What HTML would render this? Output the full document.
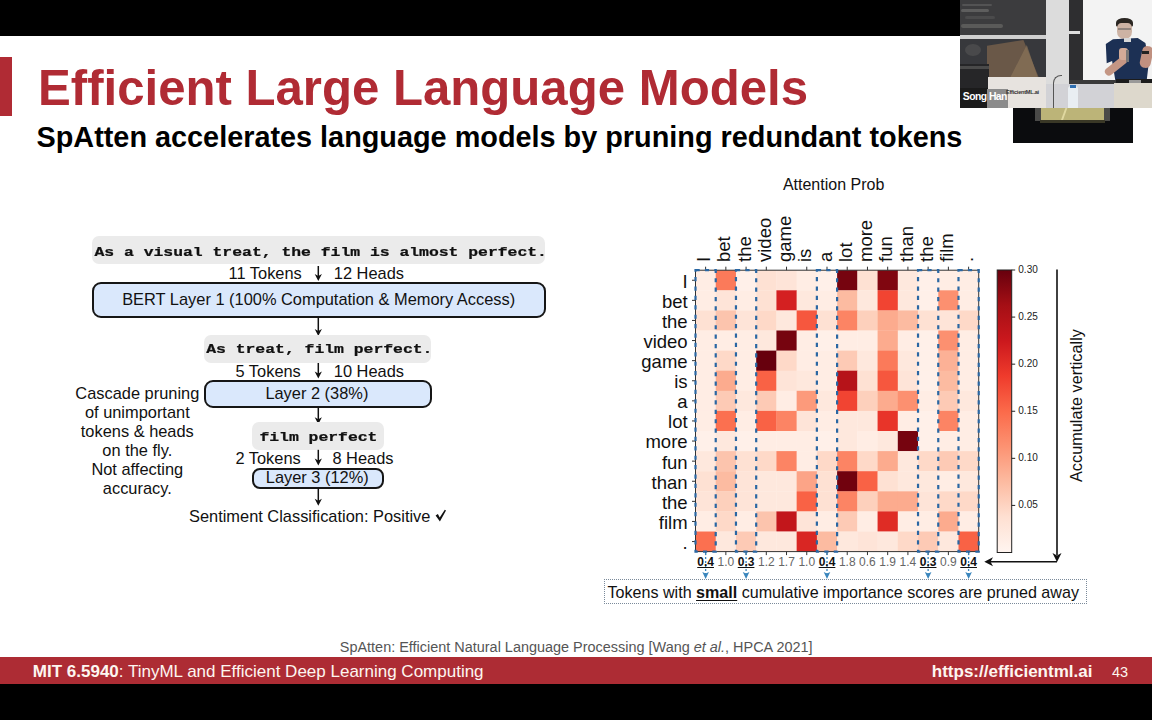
<!DOCTYPE html><html><head><meta charset="utf-8"><style>html,body{margin:0;padding:0;background:#fff;width:1152px;height:720px;overflow:hidden;position:relative}</style></head><body>
<div style="position:absolute;left:0px;top:0px;width:1152px;height:36px;background:#000;"></div>
<div style="position:absolute;left:0px;top:57px;width:12px;height:59px;background:#b02b34;"></div>
<div style="position:absolute;left:0px;top:657px;width:1152px;height:27px;background:#ad2c34;"></div>
<div style="position:absolute;left:0px;top:684px;width:1152px;height:36px;background:#000;"></div>
<div style="position:absolute;left:38.00px;top:63.72px;font-family:'Liberation Sans', sans-serif;font-size:49.15px;line-height:1;font-weight:bold;color:#b02b34;white-space:pre;">Efficient Large Language Models</div>
<div style="position:absolute;left:36.50px;top:123.49px;font-family:'Liberation Sans', sans-serif;font-size:28.83px;line-height:1;font-weight:bold;color:#000;white-space:pre;">SpAtten accelerates language models by pruning redundant tokens</div>
<div style="position:absolute;left:92.3px;top:236.3px;width:453.2px;height:28.099999999999966px;background:#ebebeb;border-radius:7px"></div>
<div style="position:absolute;left:94.50px;top:243.54px;font-family:'Liberation Mono', monospace;font-size:16.4px;line-height:1;font-weight:bold;color:#111;white-space:pre;transform:scale(1.0,0.82);transform-origin:0 12.46px;-webkit-text-stroke:0.3px #111;">As a visual treat, the film is almost perfect.</div>
<div style="position:absolute;left:228.60px;top:264.56px;font-family:'Liberation Sans', sans-serif;font-size:16.4px;line-height:1;font-weight:normal;color:#111;white-space:pre;">11 Tokens</div>
<div style="position:absolute;left:333.80px;top:264.56px;font-family:'Liberation Sans', sans-serif;font-size:16.4px;line-height:1;font-weight:normal;color:#111;white-space:pre;">12 Heads</div>
<svg style="position:absolute;left:0;top:0" width="1152" height="720"><line x1="318.3" y1="266" x2="318.3" y2="278" stroke="#111" stroke-width="1.5"/><path d="M314.7 274 L318.3 281 L321.90000000000003 274 L318.3 276 Z" fill="#111"/></svg>
<div style="position:absolute;left:92.3px;top:282.2px;width:453.7px;height:35.400000000000034px;background:#dae8fc;border:2px solid #161616;border-radius:9px;box-sizing:border-box"></div>
<div style="position:absolute;left:122.20px;top:291.46px;font-family:'Liberation Sans', sans-serif;font-size:16.4px;line-height:1;font-weight:normal;color:#111;white-space:pre;">BERT Layer 1 (100% Computation &amp; Memory Access)</div>
<svg style="position:absolute;left:0;top:0" width="1152" height="720"><line x1="318.3" y1="317.6" x2="318.3" y2="333" stroke="#111" stroke-width="1.5"/><path d="M314.7 329 L318.3 336 L321.90000000000003 329 L318.3 331 Z" fill="#111"/></svg>
<div style="position:absolute;left:203.7px;top:335.2px;width:227.8px;height:28.19999999999999px;background:#ebebeb;border-radius:7px"></div>
<div style="position:absolute;left:206.20px;top:341.14px;font-family:'Liberation Mono', monospace;font-size:16.4px;line-height:1;font-weight:bold;color:#111;white-space:pre;transform:scale(1.0,0.82);transform-origin:0 12.46px;-webkit-text-stroke:0.3px #111;">As treat, film perfect.</div>
<div style="position:absolute;left:235.50px;top:362.96px;font-family:'Liberation Sans', sans-serif;font-size:16.4px;line-height:1;font-weight:normal;color:#111;white-space:pre;">5 Tokens</div>
<div style="position:absolute;left:333.80px;top:362.96px;font-family:'Liberation Sans', sans-serif;font-size:16.4px;line-height:1;font-weight:normal;color:#111;white-space:pre;">10 Heads</div>
<svg style="position:absolute;left:0;top:0" width="1152" height="720"><line x1="318.3" y1="363" x2="318.3" y2="375.6" stroke="#111" stroke-width="1.5"/><path d="M314.7 371.6 L318.3 378.6 L321.90000000000003 371.6 L318.3 373.6 Z" fill="#111"/></svg>
<div style="position:absolute;left:204.1px;top:379.7px;width:227.9px;height:28.19999999999999px;background:#dae8fc;border:2px solid #161616;border-radius:9px;box-sizing:border-box"></div>
<div style="position:absolute;left:265.40px;top:385.26px;font-family:'Liberation Sans', sans-serif;font-size:16.4px;line-height:1;font-weight:normal;color:#111;white-space:pre;">Layer 2 (38%)</div>
<svg style="position:absolute;left:0;top:0" width="1152" height="720"><line x1="318.3" y1="407.9" x2="318.3" y2="421.3" stroke="#111" stroke-width="1.5"/><path d="M314.7 417.3 L318.3 424.3 L321.90000000000003 417.3 L318.3 419.3 Z" fill="#111"/></svg>
<div style="position:absolute;left:251.7px;top:422.4px;width:132.0px;height:27.400000000000034px;background:#ebebeb;border-radius:7px"></div>
<div style="position:absolute;left:259.40px;top:428.84px;font-family:'Liberation Mono', monospace;font-size:16.4px;line-height:1;font-weight:bold;color:#111;white-space:pre;transform:scale(1.0,0.82);transform-origin:0 12.46px;-webkit-text-stroke:0.3px #111;">film perfect</div>
<div style="position:absolute;left:235.40px;top:449.76px;font-family:'Liberation Sans', sans-serif;font-size:16.4px;line-height:1;font-weight:normal;color:#111;white-space:pre;">2 Tokens</div>
<div style="position:absolute;left:332.40px;top:449.76px;font-family:'Liberation Sans', sans-serif;font-size:16.4px;line-height:1;font-weight:normal;color:#111;white-space:pre;">8 Heads</div>
<svg style="position:absolute;left:0;top:0" width="1152" height="720"><line x1="318.3" y1="449.8" x2="318.3" y2="462.6" stroke="#111" stroke-width="1.5"/><path d="M314.7 458.6 L318.3 465.6 L321.90000000000003 458.6 L318.3 460.6 Z" fill="#111"/></svg>
<div style="position:absolute;left:251.7px;top:467.6px;width:132.0px;height:21.099999999999966px;background:#dae8fc;border:2px solid #161616;border-radius:8px;box-sizing:border-box"></div>
<div style="position:absolute;left:265.80px;top:468.66px;font-family:'Liberation Sans', sans-serif;font-size:16.4px;line-height:1;font-weight:normal;color:#111;white-space:pre;">Layer 3 (12%)</div>
<svg style="position:absolute;left:0;top:0" width="1152" height="720"><line x1="318.3" y1="488.7" x2="318.3" y2="502.7" stroke="#111" stroke-width="1.5"/><path d="M314.7 498.7 L318.3 505.7 L321.90000000000003 498.7 L318.3 500.7 Z" fill="#111"/></svg>
<div style="position:absolute;left:189.00px;top:507.56px;font-family:'Liberation Sans', sans-serif;font-size:16.4px;line-height:1;font-weight:normal;color:#111;white-space:pre;">Sentiment Classification: Positive</div>
<svg style="position:absolute;left:0;top:0" width="1152" height="720"><path d="M435.6 515.6 L437.9 514.0 L439.7 517.6 L444.8 509.8 L446.0 510.6 L439.9 521.4 Z" fill="#111"/></svg>
<div style="position:absolute;left:37.3px;width:200px;text-align:center;top:385.26px;font-family:'Liberation Sans', sans-serif;font-size:16.4px;line-height:1;color:#111;white-space:pre">Cascade pruning</div>
<div style="position:absolute;left:37.3px;width:200px;text-align:center;top:404.26px;font-family:'Liberation Sans', sans-serif;font-size:16.4px;line-height:1;color:#111;white-space:pre">of unimportant</div>
<div style="position:absolute;left:37.3px;width:200px;text-align:center;top:423.26px;font-family:'Liberation Sans', sans-serif;font-size:16.4px;line-height:1;color:#111;white-space:pre">tokens &amp; heads</div>
<div style="position:absolute;left:37.3px;width:200px;text-align:center;top:442.26px;font-family:'Liberation Sans', sans-serif;font-size:16.4px;line-height:1;color:#111;white-space:pre">on the fly.</div>
<div style="position:absolute;left:37.3px;width:200px;text-align:center;top:461.26px;font-family:'Liberation Sans', sans-serif;font-size:16.4px;line-height:1;color:#111;white-space:pre">Not affecting</div>
<div style="position:absolute;left:37.3px;width:200px;text-align:center;top:480.26px;font-family:'Liberation Sans', sans-serif;font-size:16.4px;line-height:1;color:#111;white-space:pre">accuracy.</div>
<div style="position:absolute;left:782.90px;top:176.70px;font-family:'Liberation Sans', sans-serif;font-size:16.0px;line-height:1;font-weight:normal;color:#111;white-space:pre;">Attention Prob</div>
<svg style="position:absolute;left:0;top:0" width="1152" height="720"><rect x="695.50" y="270.20" width="20.53" height="20.40" fill="#ffede4"/><rect x="715.73" y="270.20" width="20.53" height="20.40" fill="#fb7a5a"/><rect x="735.96" y="270.20" width="20.53" height="20.40" fill="#fff0e9"/><rect x="756.19" y="270.20" width="20.53" height="20.40" fill="#fee1d3"/><rect x="776.42" y="270.20" width="20.53" height="20.40" fill="#fee4d8"/><rect x="796.65" y="270.20" width="20.53" height="20.40" fill="#ffede4"/><rect x="816.88" y="270.20" width="20.53" height="20.40" fill="#fff0e9"/><rect x="837.11" y="270.20" width="20.53" height="20.40" fill="#76040f"/><rect x="857.34" y="270.20" width="20.53" height="20.40" fill="#fee1d3"/><rect x="877.57" y="270.20" width="20.53" height="20.40" fill="#800610"/><rect x="897.80" y="270.20" width="20.53" height="20.40" fill="#fee8dd"/><rect x="918.03" y="270.20" width="20.53" height="20.40" fill="#fff0e9"/><rect x="938.26" y="270.20" width="20.53" height="20.40" fill="#ffede4"/><rect x="958.49" y="270.20" width="20.53" height="20.40" fill="#ffede4"/><rect x="695.50" y="290.30" width="20.53" height="20.40" fill="#ffede4"/><rect x="715.73" y="290.30" width="20.53" height="20.40" fill="#fee4d8"/><rect x="735.96" y="290.30" width="20.53" height="20.40" fill="#ffede4"/><rect x="756.19" y="290.30" width="20.53" height="20.40" fill="#fee1d3"/><rect x="776.42" y="290.30" width="20.53" height="20.40" fill="#d42021"/><rect x="796.65" y="290.30" width="20.53" height="20.40" fill="#fee8dd"/><rect x="816.88" y="290.30" width="20.53" height="20.40" fill="#ffede4"/><rect x="837.11" y="290.30" width="20.53" height="20.40" fill="#fcbba1"/><rect x="857.34" y="290.30" width="20.53" height="20.40" fill="#fee8dd"/><rect x="877.57" y="290.30" width="20.53" height="20.40" fill="#f14432"/><rect x="897.80" y="290.30" width="20.53" height="20.40" fill="#fee8dd"/><rect x="918.03" y="290.30" width="20.53" height="20.40" fill="#fff0e9"/><rect x="938.26" y="290.30" width="20.53" height="20.40" fill="#fc9070"/><rect x="958.49" y="290.30" width="20.53" height="20.40" fill="#ffede4"/><rect x="695.50" y="310.40" width="20.53" height="20.40" fill="#fee1d3"/><rect x="715.73" y="310.40" width="20.53" height="20.40" fill="#fcc4ad"/><rect x="735.96" y="310.40" width="20.53" height="20.40" fill="#fee4d8"/><rect x="756.19" y="310.40" width="20.53" height="20.40" fill="#fed9c8"/><rect x="776.42" y="310.40" width="20.53" height="20.40" fill="#fee8dd"/><rect x="796.65" y="310.40" width="20.53" height="20.40" fill="#f6573e"/><rect x="816.88" y="310.40" width="20.53" height="20.40" fill="#fee1d3"/><rect x="837.11" y="310.40" width="20.53" height="20.40" fill="#fc8464"/><rect x="857.34" y="310.40" width="20.53" height="20.40" fill="#fdd0bc"/><rect x="877.57" y="310.40" width="20.53" height="20.40" fill="#fcab8e"/><rect x="897.80" y="310.40" width="20.53" height="20.40" fill="#fcbba1"/><rect x="918.03" y="310.40" width="20.53" height="20.40" fill="#fee1d3"/><rect x="938.26" y="310.40" width="20.53" height="20.40" fill="#fee4d8"/><rect x="958.49" y="310.40" width="20.53" height="20.40" fill="#fed9c8"/><rect x="695.50" y="330.50" width="20.53" height="20.40" fill="#ffede4"/><rect x="715.73" y="330.50" width="20.53" height="20.40" fill="#ffede4"/><rect x="735.96" y="330.50" width="20.53" height="20.40" fill="#ffede4"/><rect x="756.19" y="330.50" width="20.53" height="20.40" fill="#fee8dd"/><rect x="776.42" y="330.50" width="20.53" height="20.40" fill="#76040f"/><rect x="796.65" y="330.50" width="20.53" height="20.40" fill="#ffede4"/><rect x="816.88" y="330.50" width="20.53" height="20.40" fill="#fff0e9"/><rect x="837.11" y="330.50" width="20.53" height="20.40" fill="#ffede4"/><rect x="857.34" y="330.50" width="20.53" height="20.40" fill="#ffede4"/><rect x="877.57" y="330.50" width="20.53" height="20.40" fill="#fcab8e"/><rect x="897.80" y="330.50" width="20.53" height="20.40" fill="#ffede4"/><rect x="918.03" y="330.50" width="20.53" height="20.40" fill="#fff0e9"/><rect x="938.26" y="330.50" width="20.53" height="20.40" fill="#fc9070"/><rect x="958.49" y="330.50" width="20.53" height="20.40" fill="#ffede4"/><rect x="695.50" y="350.60" width="20.53" height="20.40" fill="#ffede4"/><rect x="715.73" y="350.60" width="20.53" height="20.40" fill="#fed9c8"/><rect x="735.96" y="350.60" width="20.53" height="20.40" fill="#ffede4"/><rect x="756.19" y="350.60" width="20.53" height="20.40" fill="#67000d"/><rect x="776.42" y="350.60" width="20.53" height="20.40" fill="#fed9c8"/><rect x="796.65" y="350.60" width="20.53" height="20.40" fill="#ffede4"/><rect x="816.88" y="350.60" width="20.53" height="20.40" fill="#ffede4"/><rect x="837.11" y="350.60" width="20.53" height="20.40" fill="#fdcab5"/><rect x="857.34" y="350.60" width="20.53" height="20.40" fill="#fee8dd"/><rect x="877.57" y="350.60" width="20.53" height="20.40" fill="#fb7a5a"/><rect x="897.80" y="350.60" width="20.53" height="20.40" fill="#fee8dd"/><rect x="918.03" y="350.60" width="20.53" height="20.40" fill="#fff0e9"/><rect x="938.26" y="350.60" width="20.53" height="20.40" fill="#fcb196"/><rect x="958.49" y="350.60" width="20.53" height="20.40" fill="#ffede4"/><rect x="695.50" y="370.70" width="20.53" height="20.40" fill="#ffede4"/><rect x="715.73" y="370.70" width="20.53" height="20.40" fill="#fcab8e"/><rect x="735.96" y="370.70" width="20.53" height="20.40" fill="#ffede4"/><rect x="756.19" y="370.70" width="20.53" height="20.40" fill="#f96245"/><rect x="776.42" y="370.70" width="20.53" height="20.40" fill="#fee4d8"/><rect x="796.65" y="370.70" width="20.53" height="20.40" fill="#fee8dd"/><rect x="816.88" y="370.70" width="20.53" height="20.40" fill="#ffede4"/><rect x="837.11" y="370.70" width="20.53" height="20.40" fill="#b61319"/><rect x="857.34" y="370.70" width="20.53" height="20.40" fill="#fee1d3"/><rect x="877.57" y="370.70" width="20.53" height="20.40" fill="#f6573e"/><rect x="897.80" y="370.70" width="20.53" height="20.40" fill="#fee4d8"/><rect x="918.03" y="370.70" width="20.53" height="20.40" fill="#fff0e9"/><rect x="938.26" y="370.70" width="20.53" height="20.40" fill="#fcbba1"/><rect x="958.49" y="370.70" width="20.53" height="20.40" fill="#ffede4"/><rect x="695.50" y="390.80" width="20.53" height="20.40" fill="#ffede4"/><rect x="715.73" y="390.80" width="20.53" height="20.40" fill="#fdcab5"/><rect x="735.96" y="390.80" width="20.53" height="20.40" fill="#fee8dd"/><rect x="756.19" y="390.80" width="20.53" height="20.40" fill="#fdcab5"/><rect x="776.42" y="390.80" width="20.53" height="20.40" fill="#ffede4"/><rect x="796.65" y="390.80" width="20.53" height="20.40" fill="#fc9a7b"/><rect x="816.88" y="390.80" width="20.53" height="20.40" fill="#fee8dd"/><rect x="837.11" y="390.80" width="20.53" height="20.40" fill="#f14432"/><rect x="857.34" y="390.80" width="20.53" height="20.40" fill="#fdd0bc"/><rect x="877.57" y="390.80" width="20.53" height="20.40" fill="#fcab8e"/><rect x="897.80" y="390.80" width="20.53" height="20.40" fill="#fc9070"/><rect x="918.03" y="390.80" width="20.53" height="20.40" fill="#ffede4"/><rect x="938.26" y="390.80" width="20.53" height="20.40" fill="#fdcab5"/><rect x="958.49" y="390.80" width="20.53" height="20.40" fill="#fee8dd"/><rect x="695.50" y="410.90" width="20.53" height="20.40" fill="#ffede4"/><rect x="715.73" y="410.90" width="20.53" height="20.40" fill="#fb7050"/><rect x="735.96" y="410.90" width="20.53" height="20.40" fill="#ffede4"/><rect x="756.19" y="410.90" width="20.53" height="20.40" fill="#f96245"/><rect x="776.42" y="410.90" width="20.53" height="20.40" fill="#fc8464"/><rect x="796.65" y="410.90" width="20.53" height="20.40" fill="#fee4d8"/><rect x="816.88" y="410.90" width="20.53" height="20.40" fill="#ffede4"/><rect x="837.11" y="410.90" width="20.53" height="20.40" fill="#fee8dd"/><rect x="857.34" y="410.90" width="20.53" height="20.40" fill="#fee8dd"/><rect x="877.57" y="410.90" width="20.53" height="20.40" fill="#e83429"/><rect x="897.80" y="410.90" width="20.53" height="20.40" fill="#ffede4"/><rect x="918.03" y="410.90" width="20.53" height="20.40" fill="#fff0e9"/><rect x="938.26" y="410.90" width="20.53" height="20.40" fill="#fc8464"/><rect x="958.49" y="410.90" width="20.53" height="20.40" fill="#ffede4"/><rect x="695.50" y="431.00" width="20.53" height="20.40" fill="#fff0e9"/><rect x="715.73" y="431.00" width="20.53" height="20.40" fill="#fee8dd"/><rect x="735.96" y="431.00" width="20.53" height="20.40" fill="#fff0e9"/><rect x="756.19" y="431.00" width="20.53" height="20.40" fill="#ffede4"/><rect x="776.42" y="431.00" width="20.53" height="20.40" fill="#ffede4"/><rect x="796.65" y="431.00" width="20.53" height="20.40" fill="#ffede4"/><rect x="816.88" y="431.00" width="20.53" height="20.40" fill="#fff0e9"/><rect x="837.11" y="431.00" width="20.53" height="20.40" fill="#fee8dd"/><rect x="857.34" y="431.00" width="20.53" height="20.40" fill="#ffede4"/><rect x="877.57" y="431.00" width="20.53" height="20.40" fill="#fee8dd"/><rect x="897.80" y="431.00" width="20.53" height="20.40" fill="#76040f"/><rect x="918.03" y="431.00" width="20.53" height="20.40" fill="#fff0e9"/><rect x="938.26" y="431.00" width="20.53" height="20.40" fill="#ffede4"/><rect x="958.49" y="431.00" width="20.53" height="20.40" fill="#ffede4"/><rect x="695.50" y="451.10" width="20.53" height="20.40" fill="#fee8dd"/><rect x="715.73" y="451.10" width="20.53" height="20.40" fill="#fcc4ad"/><rect x="735.96" y="451.10" width="20.53" height="20.40" fill="#fee1d3"/><rect x="756.19" y="451.10" width="20.53" height="20.40" fill="#fed9c8"/><rect x="776.42" y="451.10" width="20.53" height="20.40" fill="#fc8464"/><rect x="796.65" y="451.10" width="20.53" height="20.40" fill="#ffede4"/><rect x="816.88" y="451.10" width="20.53" height="20.40" fill="#fed9c8"/><rect x="837.11" y="451.10" width="20.53" height="20.40" fill="#fc8464"/><rect x="857.34" y="451.10" width="20.53" height="20.40" fill="#fed9c8"/><rect x="877.57" y="451.10" width="20.53" height="20.40" fill="#fcab8e"/><rect x="897.80" y="451.10" width="20.53" height="20.40" fill="#fee8dd"/><rect x="918.03" y="451.10" width="20.53" height="20.40" fill="#fed9c8"/><rect x="938.26" y="451.10" width="20.53" height="20.40" fill="#fdcab5"/><rect x="958.49" y="451.10" width="20.53" height="20.40" fill="#fed9c8"/><rect x="695.50" y="471.20" width="20.53" height="20.40" fill="#fee1d3"/><rect x="715.73" y="471.20" width="20.53" height="20.40" fill="#fcbba1"/><rect x="735.96" y="471.20" width="20.53" height="20.40" fill="#fee4d8"/><rect x="756.19" y="471.20" width="20.53" height="20.40" fill="#fee8dd"/><rect x="776.42" y="471.20" width="20.53" height="20.40" fill="#fee8dd"/><rect x="796.65" y="471.20" width="20.53" height="20.40" fill="#fca487"/><rect x="816.88" y="471.20" width="20.53" height="20.40" fill="#fee1d3"/><rect x="837.11" y="471.20" width="20.53" height="20.40" fill="#71020e"/><rect x="857.34" y="471.20" width="20.53" height="20.40" fill="#f96245"/><rect x="877.57" y="471.20" width="20.53" height="20.40" fill="#fee1d3"/><rect x="897.80" y="471.20" width="20.53" height="20.40" fill="#fee8dd"/><rect x="918.03" y="471.20" width="20.53" height="20.40" fill="#fee8dd"/><rect x="938.26" y="471.20" width="20.53" height="20.40" fill="#ffede4"/><rect x="958.49" y="471.20" width="20.53" height="20.40" fill="#fee8dd"/><rect x="695.50" y="491.30" width="20.53" height="20.40" fill="#fee4d8"/><rect x="715.73" y="491.30" width="20.53" height="20.40" fill="#fdd0bc"/><rect x="735.96" y="491.30" width="20.53" height="20.40" fill="#fee4d8"/><rect x="756.19" y="491.30" width="20.53" height="20.40" fill="#fee8dd"/><rect x="776.42" y="491.30" width="20.53" height="20.40" fill="#fee8dd"/><rect x="796.65" y="491.30" width="20.53" height="20.40" fill="#f96245"/><rect x="816.88" y="491.30" width="20.53" height="20.40" fill="#fee1d3"/><rect x="837.11" y="491.30" width="20.53" height="20.40" fill="#fc8464"/><rect x="857.34" y="491.30" width="20.53" height="20.40" fill="#fdd0bc"/><rect x="877.57" y="491.30" width="20.53" height="20.40" fill="#fcab8e"/><rect x="897.80" y="491.30" width="20.53" height="20.40" fill="#fcab8e"/><rect x="918.03" y="491.30" width="20.53" height="20.40" fill="#fee4d8"/><rect x="938.26" y="491.30" width="20.53" height="20.40" fill="#fed9c8"/><rect x="958.49" y="491.30" width="20.53" height="20.40" fill="#fed9c8"/><rect x="695.50" y="511.40" width="20.53" height="20.40" fill="#ffede4"/><rect x="715.73" y="511.40" width="20.53" height="20.40" fill="#fed9c8"/><rect x="735.96" y="511.40" width="20.53" height="20.40" fill="#ffede4"/><rect x="756.19" y="511.40" width="20.53" height="20.40" fill="#fcc4ad"/><rect x="776.42" y="511.40" width="20.53" height="20.40" fill="#c2161b"/><rect x="796.65" y="511.40" width="20.53" height="20.40" fill="#fee4d8"/><rect x="816.88" y="511.40" width="20.53" height="20.40" fill="#ffede4"/><rect x="837.11" y="511.40" width="20.53" height="20.40" fill="#fdcab5"/><rect x="857.34" y="511.40" width="20.53" height="20.40" fill="#ffede4"/><rect x="877.57" y="511.40" width="20.53" height="20.40" fill="#df2c25"/><rect x="897.80" y="511.40" width="20.53" height="20.40" fill="#ffede4"/><rect x="918.03" y="511.40" width="20.53" height="20.40" fill="#ffede4"/><rect x="938.26" y="511.40" width="20.53" height="20.40" fill="#fcab8e"/><rect x="958.49" y="511.40" width="20.53" height="20.40" fill="#ffede4"/><rect x="695.50" y="531.50" width="20.53" height="20.40" fill="#fb7050"/><rect x="715.73" y="531.50" width="20.53" height="20.40" fill="#fee8dd"/><rect x="735.96" y="531.50" width="20.53" height="20.40" fill="#fdcab5"/><rect x="756.19" y="531.50" width="20.53" height="20.40" fill="#fee8dd"/><rect x="776.42" y="531.50" width="20.53" height="20.40" fill="#fee8dd"/><rect x="796.65" y="531.50" width="20.53" height="20.40" fill="#d92623"/><rect x="816.88" y="531.50" width="20.53" height="20.40" fill="#fcbba1"/><rect x="837.11" y="531.50" width="20.53" height="20.40" fill="#fee8dd"/><rect x="857.34" y="531.50" width="20.53" height="20.40" fill="#fee4d8"/><rect x="877.57" y="531.50" width="20.53" height="20.40" fill="#fee8dd"/><rect x="897.80" y="531.50" width="20.53" height="20.40" fill="#fed9c8"/><rect x="918.03" y="531.50" width="20.53" height="20.40" fill="#fdcab5"/><rect x="938.26" y="531.50" width="20.53" height="20.40" fill="#fee8dd"/><rect x="958.49" y="531.50" width="20.53" height="20.40" fill="#f96245"/><rect x="695.5" y="270.2" width="283.22" height="281.40" fill="none" stroke="#333" stroke-width="1"/><line x1="705.62" y1="266.7" x2="705.62" y2="270.2" stroke="#333" stroke-width="1"/><line x1="705.62" y1="551.6" x2="705.62" y2="555.1" stroke="#333" stroke-width="1"/><line x1="725.85" y1="266.7" x2="725.85" y2="270.2" stroke="#333" stroke-width="1"/><line x1="725.85" y1="551.6" x2="725.85" y2="555.1" stroke="#333" stroke-width="1"/><line x1="746.08" y1="266.7" x2="746.08" y2="270.2" stroke="#333" stroke-width="1"/><line x1="746.08" y1="551.6" x2="746.08" y2="555.1" stroke="#333" stroke-width="1"/><line x1="766.31" y1="266.7" x2="766.31" y2="270.2" stroke="#333" stroke-width="1"/><line x1="766.31" y1="551.6" x2="766.31" y2="555.1" stroke="#333" stroke-width="1"/><line x1="786.53" y1="266.7" x2="786.53" y2="270.2" stroke="#333" stroke-width="1"/><line x1="786.53" y1="551.6" x2="786.53" y2="555.1" stroke="#333" stroke-width="1"/><line x1="806.76" y1="266.7" x2="806.76" y2="270.2" stroke="#333" stroke-width="1"/><line x1="806.76" y1="551.6" x2="806.76" y2="555.1" stroke="#333" stroke-width="1"/><line x1="827.00" y1="266.7" x2="827.00" y2="270.2" stroke="#333" stroke-width="1"/><line x1="827.00" y1="551.6" x2="827.00" y2="555.1" stroke="#333" stroke-width="1"/><line x1="847.23" y1="266.7" x2="847.23" y2="270.2" stroke="#333" stroke-width="1"/><line x1="847.23" y1="551.6" x2="847.23" y2="555.1" stroke="#333" stroke-width="1"/><line x1="867.46" y1="266.7" x2="867.46" y2="270.2" stroke="#333" stroke-width="1"/><line x1="867.46" y1="551.6" x2="867.46" y2="555.1" stroke="#333" stroke-width="1"/><line x1="887.68" y1="266.7" x2="887.68" y2="270.2" stroke="#333" stroke-width="1"/><line x1="887.68" y1="551.6" x2="887.68" y2="555.1" stroke="#333" stroke-width="1"/><line x1="907.91" y1="266.7" x2="907.91" y2="270.2" stroke="#333" stroke-width="1"/><line x1="907.91" y1="551.6" x2="907.91" y2="555.1" stroke="#333" stroke-width="1"/><line x1="928.14" y1="266.7" x2="928.14" y2="270.2" stroke="#333" stroke-width="1"/><line x1="928.14" y1="551.6" x2="928.14" y2="555.1" stroke="#333" stroke-width="1"/><line x1="948.38" y1="266.7" x2="948.38" y2="270.2" stroke="#333" stroke-width="1"/><line x1="948.38" y1="551.6" x2="948.38" y2="555.1" stroke="#333" stroke-width="1"/><line x1="968.61" y1="266.7" x2="968.61" y2="270.2" stroke="#333" stroke-width="1"/><line x1="968.61" y1="551.6" x2="968.61" y2="555.1" stroke="#333" stroke-width="1"/><line x1="692.0" y1="280.25" x2="695.5" y2="280.25" stroke="#333" stroke-width="1"/><line x1="692.0" y1="300.35" x2="695.5" y2="300.35" stroke="#333" stroke-width="1"/><line x1="692.0" y1="320.45" x2="695.5" y2="320.45" stroke="#333" stroke-width="1"/><line x1="692.0" y1="340.55" x2="695.5" y2="340.55" stroke="#333" stroke-width="1"/><line x1="692.0" y1="360.65" x2="695.5" y2="360.65" stroke="#333" stroke-width="1"/><line x1="692.0" y1="380.75" x2="695.5" y2="380.75" stroke="#333" stroke-width="1"/><line x1="692.0" y1="400.85" x2="695.5" y2="400.85" stroke="#333" stroke-width="1"/><line x1="692.0" y1="420.95" x2="695.5" y2="420.95" stroke="#333" stroke-width="1"/><line x1="692.0" y1="441.05" x2="695.5" y2="441.05" stroke="#333" stroke-width="1"/><line x1="692.0" y1="461.15" x2="695.5" y2="461.15" stroke="#333" stroke-width="1"/><line x1="692.0" y1="481.25" x2="695.5" y2="481.25" stroke="#333" stroke-width="1"/><line x1="692.0" y1="501.35" x2="695.5" y2="501.35" stroke="#333" stroke-width="1"/><line x1="692.0" y1="521.45" x2="695.5" y2="521.45" stroke="#333" stroke-width="1"/><line x1="692.0" y1="541.55" x2="695.5" y2="541.55" stroke="#333" stroke-width="1"/><rect x="695.50" y="270.20" width="20.23" height="281.40" fill="none" stroke="#2a67a3" stroke-width="2.2" stroke-dasharray="4.2 5.2"/><rect x="735.96" y="270.20" width="20.23" height="281.40" fill="none" stroke="#2a67a3" stroke-width="2.2" stroke-dasharray="4.2 5.2"/><rect x="816.88" y="270.20" width="20.23" height="281.40" fill="none" stroke="#2a67a3" stroke-width="2.2" stroke-dasharray="4.2 5.2"/><rect x="918.03" y="270.20" width="20.23" height="281.40" fill="none" stroke="#2a67a3" stroke-width="2.2" stroke-dasharray="4.2 5.2"/><rect x="958.49" y="270.20" width="20.23" height="281.40" fill="none" stroke="#2a67a3" stroke-width="2.2" stroke-dasharray="4.2 5.2"/><defs><linearGradient id="cb" x1="0" y1="1" x2="0" y2="0"><stop offset="0.0" stop-color="#fff5f0"/><stop offset="0.125" stop-color="#fee0d2"/><stop offset="0.25" stop-color="#fcbba1"/><stop offset="0.375" stop-color="#fc9272"/><stop offset="0.5" stop-color="#fb6a4a"/><stop offset="0.625" stop-color="#ef3b2c"/><stop offset="0.75" stop-color="#cb181d"/><stop offset="0.875" stop-color="#a50f15"/><stop offset="1.0" stop-color="#67000d"/></linearGradient></defs><rect x="997.2" y="270.0" width="14.5" height="282.5" fill="url(#cb)" stroke="#222" stroke-width="1"/><line x1="1011.7" y1="505.42" x2="1015.2" y2="505.42" stroke="#222" stroke-width="1"/><line x1="1011.7" y1="458.33" x2="1015.2" y2="458.33" stroke="#222" stroke-width="1"/><line x1="1011.7" y1="411.25" x2="1015.2" y2="411.25" stroke="#222" stroke-width="1"/><line x1="1011.7" y1="364.17" x2="1015.2" y2="364.17" stroke="#222" stroke-width="1"/><line x1="1011.7" y1="317.08" x2="1015.2" y2="317.08" stroke="#222" stroke-width="1"/><line x1="1011.7" y1="270.00" x2="1015.2" y2="270.00" stroke="#222" stroke-width="1"/><line x1="705.62" y1="553" x2="705.62" y2="574" stroke="#3a86bd" stroke-width="1.3" stroke-dasharray="2 2"/><path d="M702.32 572 L705.62 579 L708.91 572 L705.62 573.5 Z" fill="#3a86bd"/><line x1="746.08" y1="553" x2="746.08" y2="574" stroke="#3a86bd" stroke-width="1.3" stroke-dasharray="2 2"/><path d="M742.78 572 L746.08 579 L749.38 572 L746.08 573.5 Z" fill="#3a86bd"/><line x1="827.00" y1="553" x2="827.00" y2="574" stroke="#3a86bd" stroke-width="1.3" stroke-dasharray="2 2"/><path d="M823.70 572 L827.00 579 L830.29 572 L827.00 573.5 Z" fill="#3a86bd"/><line x1="928.14" y1="553" x2="928.14" y2="574" stroke="#3a86bd" stroke-width="1.3" stroke-dasharray="2 2"/><path d="M924.85 572 L928.14 579 L931.44 572 L928.14 573.5 Z" fill="#3a86bd"/><line x1="968.61" y1="553" x2="968.61" y2="574" stroke="#3a86bd" stroke-width="1.3" stroke-dasharray="2 2"/><path d="M965.31 572 L968.61 579 L971.90 572 L968.61 573.5 Z" fill="#3a86bd"/><line x1="1057" y1="269.4" x2="1057" y2="555" stroke="#111" stroke-width="1.6"/><path d="M1052.5 553 L1057 562 L1061.5 553 L1057 555.5 Z" fill="#111"/><line x1="1057" y1="561.8" x2="990" y2="561.8" stroke="#111" stroke-width="1.6"/><path d="M993 557.3 L984.3 561.8 L993 566.3 L990.5 561.8 Z" fill="#111"/></svg>
<div style="position:absolute;left:1018.30px;top:500.42px;font-family:'Liberation Sans', sans-serif;font-size:10px;line-height:1;font-weight:normal;color:#222;white-space:pre;">0.05</div>
<div style="position:absolute;left:1018.30px;top:453.33px;font-family:'Liberation Sans', sans-serif;font-size:10px;line-height:1;font-weight:normal;color:#222;white-space:pre;">0.10</div>
<div style="position:absolute;left:1018.30px;top:406.25px;font-family:'Liberation Sans', sans-serif;font-size:10px;line-height:1;font-weight:normal;color:#222;white-space:pre;">0.15</div>
<div style="position:absolute;left:1018.30px;top:359.17px;font-family:'Liberation Sans', sans-serif;font-size:10px;line-height:1;font-weight:normal;color:#222;white-space:pre;">0.20</div>
<div style="position:absolute;left:1018.30px;top:312.08px;font-family:'Liberation Sans', sans-serif;font-size:10px;line-height:1;font-weight:normal;color:#222;white-space:pre;">0.25</div>
<div style="position:absolute;left:1018.30px;top:265.00px;font-family:'Liberation Sans', sans-serif;font-size:10px;line-height:1;font-weight:normal;color:#222;white-space:pre;">0.30</div>
<div style="position:absolute;left:705.62px;top:262.4px;width:0;height:0"><div style="position:absolute;left:-1.4px;top:0;transform:rotate(-90deg);transform-origin:0 0;font-family:'Liberation Sans', sans-serif;font-size:18.5px;line-height:1;color:#111;white-space:pre"><div style="position:relative;top:-9.25px">I</div></div></div>
<div style="position:absolute;left:725.85px;top:262.4px;width:0;height:0"><div style="position:absolute;left:-1.4px;top:0;transform:rotate(-90deg);transform-origin:0 0;font-family:'Liberation Sans', sans-serif;font-size:18.5px;line-height:1;color:#111;white-space:pre"><div style="position:relative;top:-9.25px">bet</div></div></div>
<div style="position:absolute;left:746.08px;top:262.4px;width:0;height:0"><div style="position:absolute;left:-1.4px;top:0;transform:rotate(-90deg);transform-origin:0 0;font-family:'Liberation Sans', sans-serif;font-size:18.5px;line-height:1;color:#111;white-space:pre"><div style="position:relative;top:-9.25px">the</div></div></div>
<div style="position:absolute;left:766.31px;top:262.4px;width:0;height:0"><div style="position:absolute;left:-1.4px;top:0;transform:rotate(-90deg);transform-origin:0 0;font-family:'Liberation Sans', sans-serif;font-size:18.5px;line-height:1;color:#111;white-space:pre"><div style="position:relative;top:-9.25px">video</div></div></div>
<div style="position:absolute;left:786.53px;top:262.4px;width:0;height:0"><div style="position:absolute;left:-1.4px;top:0;transform:rotate(-90deg);transform-origin:0 0;font-family:'Liberation Sans', sans-serif;font-size:18.5px;line-height:1;color:#111;white-space:pre"><div style="position:relative;top:-9.25px">game</div></div></div>
<div style="position:absolute;left:806.76px;top:262.4px;width:0;height:0"><div style="position:absolute;left:-1.4px;top:0;transform:rotate(-90deg);transform-origin:0 0;font-family:'Liberation Sans', sans-serif;font-size:18.5px;line-height:1;color:#111;white-space:pre"><div style="position:relative;top:-9.25px">is</div></div></div>
<div style="position:absolute;left:827.00px;top:262.4px;width:0;height:0"><div style="position:absolute;left:-1.4px;top:0;transform:rotate(-90deg);transform-origin:0 0;font-family:'Liberation Sans', sans-serif;font-size:18.5px;line-height:1;color:#111;white-space:pre"><div style="position:relative;top:-9.25px">a</div></div></div>
<div style="position:absolute;left:847.23px;top:262.4px;width:0;height:0"><div style="position:absolute;left:-1.4px;top:0;transform:rotate(-90deg);transform-origin:0 0;font-family:'Liberation Sans', sans-serif;font-size:18.5px;line-height:1;color:#111;white-space:pre"><div style="position:relative;top:-9.25px">lot</div></div></div>
<div style="position:absolute;left:867.46px;top:262.4px;width:0;height:0"><div style="position:absolute;left:-1.4px;top:0;transform:rotate(-90deg);transform-origin:0 0;font-family:'Liberation Sans', sans-serif;font-size:18.5px;line-height:1;color:#111;white-space:pre"><div style="position:relative;top:-9.25px">more</div></div></div>
<div style="position:absolute;left:887.68px;top:262.4px;width:0;height:0"><div style="position:absolute;left:-1.4px;top:0;transform:rotate(-90deg);transform-origin:0 0;font-family:'Liberation Sans', sans-serif;font-size:18.5px;line-height:1;color:#111;white-space:pre"><div style="position:relative;top:-9.25px">fun</div></div></div>
<div style="position:absolute;left:907.91px;top:262.4px;width:0;height:0"><div style="position:absolute;left:-1.4px;top:0;transform:rotate(-90deg);transform-origin:0 0;font-family:'Liberation Sans', sans-serif;font-size:18.5px;line-height:1;color:#111;white-space:pre"><div style="position:relative;top:-9.25px">than</div></div></div>
<div style="position:absolute;left:928.14px;top:262.4px;width:0;height:0"><div style="position:absolute;left:-1.4px;top:0;transform:rotate(-90deg);transform-origin:0 0;font-family:'Liberation Sans', sans-serif;font-size:18.5px;line-height:1;color:#111;white-space:pre"><div style="position:relative;top:-9.25px">the</div></div></div>
<div style="position:absolute;left:948.38px;top:262.4px;width:0;height:0"><div style="position:absolute;left:-1.4px;top:0;transform:rotate(-90deg);transform-origin:0 0;font-family:'Liberation Sans', sans-serif;font-size:18.5px;line-height:1;color:#111;white-space:pre"><div style="position:relative;top:-9.25px">film</div></div></div>
<div style="position:absolute;left:968.61px;top:262.4px;width:0;height:0"><div style="position:absolute;left:-1.4px;top:0;transform:rotate(-90deg);transform-origin:0 0;font-family:'Liberation Sans', sans-serif;font-size:18.5px;line-height:1;color:#111;white-space:pre"><div style="position:relative;top:-9.25px">.</div></div></div>
<div style="position:absolute;right:464.4px;top:272.62px;font-family:'Liberation Sans', sans-serif;font-size:18.5px;line-height:1;color:#111;white-space:pre">I</div>
<div style="position:absolute;right:464.4px;top:292.72px;font-family:'Liberation Sans', sans-serif;font-size:18.5px;line-height:1;color:#111;white-space:pre">bet</div>
<div style="position:absolute;right:464.4px;top:312.82px;font-family:'Liberation Sans', sans-serif;font-size:18.5px;line-height:1;color:#111;white-space:pre">the</div>
<div style="position:absolute;right:464.4px;top:332.93px;font-family:'Liberation Sans', sans-serif;font-size:18.5px;line-height:1;color:#111;white-space:pre">video</div>
<div style="position:absolute;right:464.4px;top:353.02px;font-family:'Liberation Sans', sans-serif;font-size:18.5px;line-height:1;color:#111;white-space:pre">game</div>
<div style="position:absolute;right:464.4px;top:373.12px;font-family:'Liberation Sans', sans-serif;font-size:18.5px;line-height:1;color:#111;white-space:pre">is</div>
<div style="position:absolute;right:464.4px;top:393.23px;font-family:'Liberation Sans', sans-serif;font-size:18.5px;line-height:1;color:#111;white-space:pre">a</div>
<div style="position:absolute;right:464.4px;top:413.32px;font-family:'Liberation Sans', sans-serif;font-size:18.5px;line-height:1;color:#111;white-space:pre">lot</div>
<div style="position:absolute;right:464.4px;top:433.43px;font-family:'Liberation Sans', sans-serif;font-size:18.5px;line-height:1;color:#111;white-space:pre">more</div>
<div style="position:absolute;right:464.4px;top:453.52px;font-family:'Liberation Sans', sans-serif;font-size:18.5px;line-height:1;color:#111;white-space:pre">fun</div>
<div style="position:absolute;right:464.4px;top:473.62px;font-family:'Liberation Sans', sans-serif;font-size:18.5px;line-height:1;color:#111;white-space:pre">than</div>
<div style="position:absolute;right:464.4px;top:493.73px;font-family:'Liberation Sans', sans-serif;font-size:18.5px;line-height:1;color:#111;white-space:pre">the</div>
<div style="position:absolute;right:464.4px;top:513.83px;font-family:'Liberation Sans', sans-serif;font-size:18.5px;line-height:1;color:#111;white-space:pre">film</div>
<div style="position:absolute;right:464.4px;top:533.92px;font-family:'Liberation Sans', sans-serif;font-size:18.5px;line-height:1;color:#111;white-space:pre">.</div>
<div style="position:absolute;left:685.62px;width:40px;text-align:center;top:555.80px;font-family:'Liberation Sans', sans-serif;font-size:12px;line-height:1;font-weight:bold;color:#111;text-decoration:underline;text-underline-offset:0.5px;text-decoration-thickness:1.2px">0.4</div>
<div style="position:absolute;left:705.85px;width:40px;text-align:center;top:555.80px;font-family:'Liberation Sans', sans-serif;font-size:12px;line-height:1;color:#666">1.0</div>
<div style="position:absolute;left:726.08px;width:40px;text-align:center;top:555.80px;font-family:'Liberation Sans', sans-serif;font-size:12px;line-height:1;font-weight:bold;color:#111;text-decoration:underline;text-underline-offset:0.5px;text-decoration-thickness:1.2px">0.3</div>
<div style="position:absolute;left:746.31px;width:40px;text-align:center;top:555.80px;font-family:'Liberation Sans', sans-serif;font-size:12px;line-height:1;color:#666">1.2</div>
<div style="position:absolute;left:766.53px;width:40px;text-align:center;top:555.80px;font-family:'Liberation Sans', sans-serif;font-size:12px;line-height:1;color:#666">1.7</div>
<div style="position:absolute;left:786.76px;width:40px;text-align:center;top:555.80px;font-family:'Liberation Sans', sans-serif;font-size:12px;line-height:1;color:#666">1.0</div>
<div style="position:absolute;left:807.00px;width:40px;text-align:center;top:555.80px;font-family:'Liberation Sans', sans-serif;font-size:12px;line-height:1;font-weight:bold;color:#111;text-decoration:underline;text-underline-offset:0.5px;text-decoration-thickness:1.2px">0.4</div>
<div style="position:absolute;left:827.23px;width:40px;text-align:center;top:555.80px;font-family:'Liberation Sans', sans-serif;font-size:12px;line-height:1;color:#666">1.8</div>
<div style="position:absolute;left:847.46px;width:40px;text-align:center;top:555.80px;font-family:'Liberation Sans', sans-serif;font-size:12px;line-height:1;color:#666">0.6</div>
<div style="position:absolute;left:867.68px;width:40px;text-align:center;top:555.80px;font-family:'Liberation Sans', sans-serif;font-size:12px;line-height:1;color:#666">1.9</div>
<div style="position:absolute;left:887.91px;width:40px;text-align:center;top:555.80px;font-family:'Liberation Sans', sans-serif;font-size:12px;line-height:1;color:#666">1.4</div>
<div style="position:absolute;left:908.14px;width:40px;text-align:center;top:555.80px;font-family:'Liberation Sans', sans-serif;font-size:12px;line-height:1;font-weight:bold;color:#111;text-decoration:underline;text-underline-offset:0.5px;text-decoration-thickness:1.2px">0.3</div>
<div style="position:absolute;left:928.38px;width:40px;text-align:center;top:555.80px;font-family:'Liberation Sans', sans-serif;font-size:12px;line-height:1;color:#666">0.9</div>
<div style="position:absolute;left:948.61px;width:40px;text-align:center;top:555.80px;font-family:'Liberation Sans', sans-serif;font-size:12px;line-height:1;font-weight:bold;color:#111;text-decoration:underline;text-underline-offset:0.5px;text-decoration-thickness:1.2px">0.4</div>
<div style="position:absolute;left:603.5px;top:579.2px;width:483px;height:25px;border:1px dotted #7a8a9a;box-sizing:border-box"></div>
<div style="position:absolute;left:607.50px;top:583.82px;font-family:'Liberation Sans', sans-serif;font-size:16.1px;line-height:1;font-weight:normal;color:#111;white-space:pre;">Tokens with <b style="text-decoration:underline;text-underline-offset:1.5px">small</b> cumulative importance scores are pruned away</div>
<div style="position:absolute;left:1082px;top:481px;width:0;height:0"><div style="position:absolute;left:0;top:0;transform:rotate(-90deg);transform-origin:0 0;font-family:'Liberation Sans', sans-serif;font-size:16.3px;line-height:1;color:#111;white-space:pre"><div style="position:relative;left:-1px;top:-13.85px">Accumulate vertically</div></div></div>
<div style="position:absolute;left:339.80px;top:640.12px;font-family:'Liberation Sans', sans-serif;font-size:14.45px;line-height:1;font-weight:normal;color:#555;white-space:pre;">SpAtten: Efficient Natural Language Processing [Wang <i>et al.</i>, HPCA 2021]</div>
<div style="position:absolute;left:32.80px;top:662.95px;font-family:'Liberation Sans', sans-serif;font-size:17px;line-height:1;font-weight:normal;color:#fdf6f0;white-space:pre;"><b>MIT 6.5940</b>: TinyML and Efficient Deep Learning Computing</div>
<div style="position:absolute;left:931.80px;top:662.95px;font-family:'Liberation Sans', sans-serif;font-size:17px;line-height:1;font-weight:bold;color:#fdf6f0;white-space:pre;">https://efficientml.ai</div>
<div style="position:absolute;left:1112.00px;top:665.07px;font-family:'Liberation Sans', sans-serif;font-size:14.5px;line-height:1;font-weight:normal;color:#fdf6f0;white-space:pre;">43</div>
<div style="position:absolute;left:960px;top:0;width:192px;height:107.6px;overflow:hidden;background:#dadada"><div style="position:absolute;left:0;top:0;width:192px;height:108px;filter:blur(0.6px)"><div style="position:absolute;left:0.0px;top:0px;width:86px;height:35px;background:#3c3c3e;"></div><div style="position:absolute;left:2.0px;top:4px;width:30px;height:2px;background:#6a6a6a;border-radius:2px;opacity:.5"></div><div style="position:absolute;left:1.0px;top:9px;width:28px;height:3px;background:#7a7a78;border-radius:2px;opacity:.55"></div><div style="position:absolute;left:1.0px;top:24px;width:42px;height:4px;background:#727270;border-radius:2px;opacity:.55"></div><div style="position:absolute;left:5.0px;top:16px;width:30px;height:3px;background:#5a5a5a;border-radius:2px;opacity:.5"></div><div style="position:absolute;left:0.0px;top:35px;width:87px;height:3.5px;background:#cfcfcf;"></div><div style="position:absolute;left:0.0px;top:38.5px;width:86px;height:40px;background:#37383c;"></div><div style="position:absolute;left:5.0px;top:44px;width:16px;height:12px;background:#555;border-radius:50%;opacity:.6"></div><div style="position:absolute;left:27.0px;top:40px;width:52px;height:38px;background:#6a5848;clip-path:polygon(0 15%,70% 0,100% 100%,0 100%)"></div><div style="position:absolute;left:50.0px;top:45px;width:28px;height:33px;background:#8a7458;clip-path:polygon(60% 0,100% 100%,0 100%);opacity:.7"></div><div style="position:absolute;left:0.0px;top:64px;width:29px;height:44px;background:#262628;"></div><div style="position:absolute;left:0.0px;top:66px;width:29px;height:3px;background:#4a4a4a;"></div><div style="position:absolute;left:28.0px;top:77px;width:65px;height:31px;background:#e7e3df;"></div><div style="position:absolute;left:90.0px;top:77px;width:3px;height:31px;background:#bdbdbd;"></div><div style="position:absolute;left:86.0px;top:0px;width:23px;height:108px;background:#dcdcdc;"></div><div style="position:absolute;left:109.0px;top:0px;width:14px;height:82px;background:#2e2e30;"></div><div style="position:absolute;left:108.0px;top:31px;width:12px;height:3px;background:#dddddd;"></div><div style="position:absolute;left:123.0px;top:0px;width:69px;height:81px;background:#f3f3f3;"></div><div style="position:absolute;left:109.0px;top:80px;width:50px;height:3.5px;background:#3a3a3a;"></div><div style="position:absolute;left:86.0px;top:83.5px;width:70px;height:25px;background:#d2d2d6;"></div><div style="position:absolute;left:93.0px;top:75px;width:8px;height:33px;background:transparent;border-left:1.5px solid #555;border-top:1.5px solid #555;border-radius:8px 0 0 0"></div><div style="position:absolute;left:107.5px;top:86px;width:10.5px;height:22px;background:#e9eef2;border-radius:3px 3px 0 0"></div><div style="position:absolute;left:110.0px;top:84.5px;width:5.5px;height:3px;background:#2f6fb0;"></div><div style="position:absolute;left:156.0px;top:18px;width:17px;height:9px;background:#2a2622;border-radius:50% 50% 20% 20%"></div><div style="position:absolute;left:157.0px;top:23px;width:15px;height:16px;background:#cdb3a4;border-radius:30% 30% 45% 45%"></div><div style="position:absolute;left:158.0px;top:27.5px;width:13px;height:2px;background:#555;opacity:.5"></div><div style="position:absolute;left:144.0px;top:38px;width:45px;height:42px;background:#1c3054;clip-path:polygon(4% 14%,20% 3%,75% 0%,92% 12%,100% 55%,95% 100%,25% 100%,18% 55%,6% 60%)"></div><div style="position:absolute;left:164.0px;top:38px;width:7px;height:4px;background:#d8d8d8;"></div><div style="position:absolute;left:143.0px;top:62px;width:26px;height:8px;background:#c49684;border-radius:5px;transform:rotate(-38deg)"></div><div style="position:absolute;left:159.0px;top:48px;width:9px;height:12px;background:#d2ab98;border-radius:3px"></div><div style="position:absolute;left:166.0px;top:50px;width:3px;height:12px;background:#777;"></div><div style="position:absolute;left:181.0px;top:46px;width:11px;height:22px;background:#c09080;border-radius:5px;transform:rotate(12deg)"></div><div style="position:absolute;left:182.0px;top:51px;width:7px;height:3px;background:#222;"></div><div style="position:absolute;left:156.0px;top:79px;width:36px;height:4px;background:#1c1c1c;"></div><div style="position:absolute;left:154.0px;top:83px;width:38px;height:25px;background:#ddd8cc;"></div><div style="position:absolute;left:169.0px;top:79.5px;width:12px;height:3px;background:#999;"></div><div style="position:absolute;left:0.0px;top:88px;width:28px;height:20px;background:#1b1b1b;"></div><div style="position:absolute;left:27.0px;top:89px;width:21px;height:19px;background:#8b8b8b;"></div></div><div style="position:absolute;left:2.8px;top:92.19px;font-family:'Liberation Sans', sans-serif;font-size:10.4px;line-height:1;font-weight:bold;color:#fff;white-space:pre;letter-spacing:-0.55px">Song Han</div><div style="position:absolute;left:46px;top:90.40px;font-family:'Liberation Sans', sans-serif;font-size:5.6px;line-height:1;font-weight:bold;color:#333;white-space:pre;letter-spacing:-0.25px">EfficientML.ai</div></div>
<div style="position:absolute;left:1013px;top:107.8px;width:119.5px;height:35px;background:#0b0c0e;overflow:hidden"><div style="position:absolute;left:27.5px;top:0;width:64px;height:13px;background:#bcb478"></div><div style="position:absolute;left:50px;top:0;width:2px;height:13px;background:#e0d8a0;transform:skewX(-20deg)"></div><div style="position:absolute;left:22px;top:0;width:6px;height:13px;background:#4a4a48"></div><div style="position:absolute;left:91px;top:0;width:6px;height:13px;background:#4a4a48"></div><div style="position:absolute;left:27px;top:12px;width:65px;height:3px;background:#3a3826"></div></div>
</body></html>
